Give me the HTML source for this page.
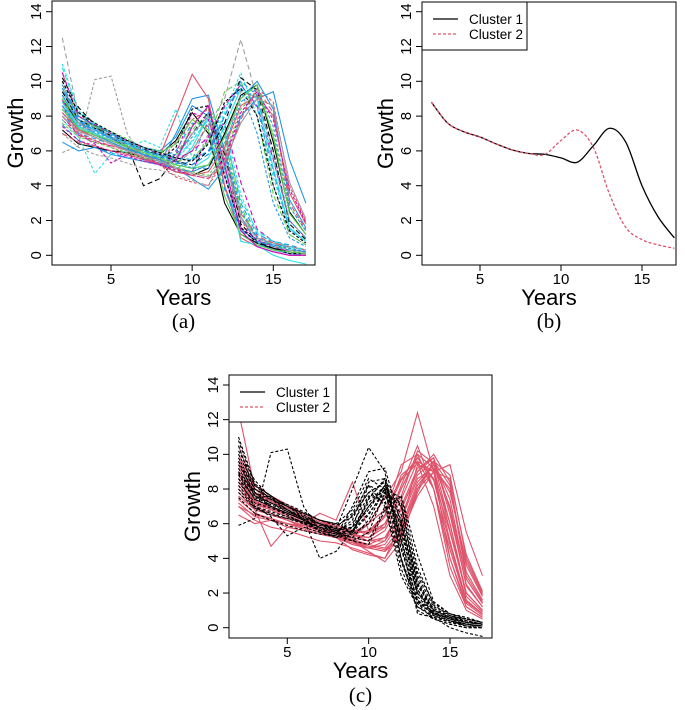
<!DOCTYPE html>
<html><head><meta charset="utf-8"><style>
html,body{margin:0;padding:0;background:#fff;}
svg{display:block;font-family:"Liberation Sans",sans-serif;}
</style></head><body>
<svg id="fig" width="685" height="710" viewBox="0 0 685 710"></svg>
<script>
const years = [2,3,4,5,6,7,8,9,10,11,12,13,14,15,16,17];
const cluster1 = [
[9.0,7.6,7.2,6.8,6.4,6.0,5.8,6.6,8.2,7.0,3.0,1.2,0.7,0.4,0.2,0.1],
[10.5,7.8,7.0,6.6,6.2,5.6,5.4,6.5,7.8,8.4,5.0,2.0,0.8,0.5,0.3,0.2],
[8.4,7.2,6.9,6.5,6.0,5.9,5.6,5.8,7.2,8.2,6.5,2.8,1.0,0.6,0.3,0.2],
[9.6,8.0,7.4,7.0,6.6,6.2,6.0,6.8,8.6,8.0,4.0,1.5,0.8,0.6,0.5,0.3],
[11.0,8.3,7.6,7.0,6.4,6.0,5.6,5.5,6.5,8.0,7.5,3.5,1.3,0.7,0.4,0.2],
[8.0,6.9,6.5,6.3,6.1,5.8,5.5,5.0,4.8,6.8,7.6,4.2,1.5,0.8,0.5,0.3],
[9.2,7.6,7.2,6.7,6.3,5.5,5.3,7.0,9.0,9.2,6.0,2.2,0.7,0.3,0.1,0.0],
[5.9,6.3,10.1,10.3,7.0,5.6,5.4,5.2,5.0,7.0,5.5,2.0,1.0,0.6,0.3,0.2],
[10.2,8.5,7.5,6.8,6.3,4.0,4.4,5.6,7.0,8.2,5.8,1.8,0.8,0.4,0.2,0.1],
[8.8,7.4,7.0,6.6,6.2,6.0,5.7,8.0,10.4,9.0,4.0,1.0,0.5,0.2,0.0,0.0],
[9.8,8.0,7.5,7.1,6.7,6.2,6.0,5.5,7.5,8.5,7.0,2.5,0.9,0.5,0.4,0.2],
[7.5,6.6,6.2,5.9,5.6,5.4,5.3,5.0,5.5,7.8,7.2,3.0,1.2,0.8,0.6,0.3],
[9.4,7.8,7.2,6.8,6.4,6.0,5.5,5.2,6.2,8.0,5.0,0.8,0.6,0.0,-0.3,-0.5],
[8.6,7.0,6.4,5.3,5.8,5.5,5.2,5.8,8.2,7.8,4.5,1.6,0.9,0.5,0.2,0.1],
[8.2,7.0,6.7,6.4,6.1,5.8,5.6,6.0,7.6,7.4,3.8,1.4,0.8,0.5,0.3,0.2],
[9.6,7.6,7.0,6.5,6.0,5.6,5.4,5.6,7.0,8.0,5.5,2.2,1.0,0.7,0.5,0.3],
[10.0,8.2,7.4,6.8,6.2,5.8,5.5,6.2,8.4,8.6,4.6,1.6,0.7,0.4,0.1,0.1],
[7.8,6.9,6.6,6.3,6.0,5.7,5.5,5.4,6.0,7.6,6.0,2.4,1.1,0.7,0.5,0.3],
[9.0,7.8,7.4,7.0,6.6,6.2,5.9,6.4,7.8,7.2,3.4,1.2,0.6,0.3,0.2,0.1],
[8.6,7.5,7.1,6.7,6.3,6.0,5.7,5.8,6.8,8.2,6.2,2.6,1.0,0.6,0.4,0.2],
[10.8,8.2,7.6,7.0,6.5,6.0,5.7,5.6,6.6,7.8,7.0,3.2,1.4,0.8,0.5,0.3],
[8.9,7.4,7.0,6.6,6.2,5.8,5.2,5.4,7.4,8.6,5.2,1.4,0.5,0.2,0.0,0.0]
];
const cluster2 = [
[8.4,7.2,7.0,6.6,6.2,5.8,5.4,5.0,5.5,6.5,8.5,9.5,7.0,3.0,1.0,0.5],
[12.5,8.0,7.3,6.8,6.3,5.8,5.5,5.2,6.0,7.5,9.0,12.4,9.0,4.0,1.2,0.6],
[7.2,6.4,6.2,6.0,5.9,5.6,5.2,4.8,4.6,5.0,7.0,9.2,9.8,6.5,2.5,1.2],
[8.0,7.0,6.6,6.2,5.8,5.5,5.2,4.5,4.2,4.0,5.5,8.0,9.6,8.8,4.0,2.0],
[9.0,7.4,7.0,6.6,6.3,6.0,5.8,5.4,5.6,6.5,9.4,10.0,8.0,3.5,1.2,0.6],
[6.5,6.0,6.2,5.8,5.6,5.4,5.2,5.0,4.8,5.2,6.8,9.0,10.0,8.4,3.2,1.6],
[7.8,6.8,4.7,5.8,6.0,6.6,6.2,8.4,5.6,5.8,8.2,10.5,8.0,4.5,1.5,0.8],
[10.5,8.0,7.5,7.0,6.6,6.2,5.8,5.5,6.0,6.8,8.6,9.8,8.6,5.5,2.0,1.0],
[8.6,7.3,6.9,6.5,6.1,5.8,5.5,5.0,4.4,3.8,5.0,8.0,9.0,9.4,5.5,3.0],
[7.0,6.2,5.8,5.6,5.3,5.0,4.9,4.6,4.3,4.0,6.0,9.4,9.0,6.0,2.0,1.0],
[9.4,7.8,7.3,6.9,6.5,6.1,5.8,5.4,5.2,6.0,7.6,10.2,9.5,6.0,1.8,0.9],
[8.2,7.2,6.8,6.4,6.0,5.6,5.2,4.8,4.6,4.8,6.2,8.6,9.2,8.0,3.6,1.8],
[7.6,6.8,6.5,6.2,5.9,5.6,5.4,5.1,4.8,4.6,5.8,8.4,9.4,7.0,2.8,1.4],
[9.8,8.0,7.5,7.0,6.6,6.2,5.9,5.6,5.5,6.0,8.0,9.8,8.5,4.8,1.5,0.8],
[8.8,7.4,7.0,6.6,6.2,5.9,5.6,5.2,5.0,5.6,7.4,9.6,9.0,5.0,1.6,0.8],
[7.4,6.6,6.3,6.0,5.7,5.4,5.2,4.9,4.6,4.4,5.6,8.2,9.4,7.8,3.8,1.9],
[9.2,7.7,7.2,6.8,6.4,6.0,5.7,5.3,5.2,5.8,8.0,10.0,9.2,5.6,2.0,1.0],
[8.0,7.1,6.8,6.4,6.0,5.7,5.4,5.0,4.7,4.5,5.4,7.6,9.0,8.6,4.2,2.1],
[10.0,8.2,7.6,7.1,6.6,6.2,5.9,5.6,5.4,6.4,8.8,9.6,8.0,4.0,1.4,0.7],
[7.0,6.5,6.3,6.0,5.8,5.5,5.3,5.0,4.6,4.4,5.2,7.8,9.6,8.2,3.0,1.5],
[8.4,7.3,6.9,6.6,6.2,5.9,5.6,5.2,5.0,5.2,6.8,9.0,9.8,6.8,2.4,1.2],
[9.6,7.8,7.3,6.9,6.5,6.1,5.8,5.4,5.0,5.0,6.4,8.8,9.6,7.4,2.8,1.4]
];
const mean1 = [8.8,7.6,7.1,6.8,6.4,6.05,5.85,5.8,5.6,5.35,6.3,7.3,6.5,4.0,2.2,1.0];
const mean2 = [8.8,7.6,7.1,6.8,6.4,6.05,5.85,5.8,6.6,7.2,6.2,3.5,1.6,0.9,0.6,0.4];
const xTicks = [5,10,15];
const yTicks = [0,2,4,6,8,10,12,14];

const NS="http://www.w3.org/2000/svg";
const svg=document.getElementById('fig');
function mk(tag,attrs,parent){const e=document.createElementNS(NS,tag);for(const k in attrs)e.setAttribute(k,attrs[k]);(parent||svg).appendChild(e);return e;}
const palette=["#000000","#DF536B","#61D04F","#2297E6","#28E2E5","#CD0BBC","#2297E6","#9E9E9E"];

function panel(name,box,x5,x15,y0,y14,letter,ly){
  const g=mk('g',{});
  
  
  const xs=v=>x5+(v-5)*(x15-x5)/10, ys=v=>y0+(v)*(y14-y0)/14;
  const clip='clip-'+name;
  const cp=mk('clipPath',{id:clip},g);
  mk('rect',{x:box[0],y:box[1],width:box[2]-box[0],height:box[3]-box[1]},cp);
  const plot=mk('g',{'clip-path':'url(#'+clip+')'},g);
  
  
  const frame=mk('rect',{x:box[0],y:box[1],width:box[2]-box[0],height:box[3]-box[1],fill:'none',stroke:'#000','stroke-width':1},g);
  
  
  xTicks.forEach(t=>{
    mk('line',{x1:xs(t),x2:xs(t),y1:box[3],y2:box[3]+6,stroke:'#000'},g);
    const tx=mk('text',{x:xs(t),y:box[3]+19,'font-size':15,'text-anchor':'middle'},g);tx.textContent=t;
    
    
  });
  yTicks.forEach(t=>{
    mk('line',{x1:box[0],x2:box[0]-6,y1:ys(t),y2:ys(t),stroke:'#000'},g);
    const tx=mk('text',{x:box[0]-11,y:ys(t),'font-size':15,'text-anchor':'middle',transform:`rotate(-90 ${box[0]-11} ${ys(t)})`},g);tx.textContent=t;
    
    
  });
  const cx=(box[0]+box[2])/2, cy=(box[1]+box[3])/2;
  const xl=mk('text',{x:cx,y:box[3]+40,'font-size':22,'text-anchor':'middle'},g);xl.textContent='Years';
  
  
  const yl=mk('text',{x:box[0]-29,y:cy,'font-size':22,'text-anchor':'middle',transform:`rotate(-90 ${box[0]-29} ${cy})`},g);yl.textContent='Growth';
  
  
  const cap=mk('text',{x:cx,y:ly,'font-size':21,'text-anchor':'middle','font-family':'Liberation Serif, serif'},g);cap.textContent='('+letter+')';
  
  
  return {plot,g,xs,ys};
}
function poly(p,vals,xs,ys,attrs,nm){
  const pts=vals.map((v,i)=>xs(years[i]).toFixed(1)+','+ys(v).toFixed(1)).join(' ');
  const e=mk('polyline',Object.assign({points:pts,fill:'none','stroke-width':1.1},attrs),p);
  
  
}
function smooth(p,vals,xs,ys,attrs,nm){
  const P=vals.map((v,i)=>[xs(years[i]),ys(v)]);
  let d='M'+P[0][0]+','+P[0][1];
  for(let i=0;i<P.length-1;i++){
    const p0=P[Math.max(i-1,0)],p1=P[i],p2=P[i+1],p3=P[Math.min(i+2,P.length-1)];
    d+=` C${p1[0]+(p2[0]-p0[0])/6},${p1[1]+(p2[1]-p0[1])/6} ${p2[0]-(p3[0]-p1[0])/6},${p2[1]-(p3[1]-p1[1])/6} ${p2[0]},${p2[1]}`;
  }
  const e=mk('path',Object.assign({d,fill:'none','stroke-width':1.3},attrs),p);
  
  
}
function legend(g,x0,y0,x1,y1){
  const lg=mk('g',{},g);
  
  
  mk('rect',{x:x0,y:y0,width:x1-x0,height:y1-y0,fill:'#fff',stroke:'#000'},lg);
  [['Cluster 1','#000','none'],['Cluster 2','#DF536B','3,2']].forEach((e,i)=>{
    const yy=y0+17+i*15;
    mk('line',{x1:x0+11,x2:x0+36,y1:yy,y2:yy,stroke:e[1],'stroke-dasharray':e[2],'stroke-width':1.2},lg);
    const t=mk('text',{x:x0+47,y:yy+5,'font-size':13.5},lg);t.textContent=e[0];
    
    
  });
}
// Panel a
const A=panel('panel-a',[52,1,315,265],111,273.3,255.3,11.7,'a',328);
cluster1.concat(cluster2).forEach((c,i)=>{
  const col=palette[i%palette.length];
  poly(A.plot,c,A.xs,A.ys,{stroke:col,'stroke-dasharray':(i%3===1)?'3,2':(i%3===2?'5,3':'none')},'curve');
});
// Panel b
const B=panel('panel-b',[422,2,676,265],480,642,255.3,11.7,'b',328);
smooth(B.plot,mean1,B.xs,B.ys,{stroke:'#000'},'mean-cluster-1');
smooth(B.plot,mean2,B.xs,B.ys,{stroke:'#DF536B','stroke-dasharray':'3,2'},'mean-cluster-2');
legend(B.g,422,2,527,50);
// Panel c
const C=panel('panel-c',[229,375,492,638],287.3,450,627.7,385,'c',702);
cluster2.forEach(c=>poly(C.plot,c,C.xs,C.ys,{stroke:'#DF536B'},'cluster-2-curve'));
cluster1.forEach(c=>poly(C.plot,c,C.xs,C.ys,{stroke:'#000','stroke-dasharray':'3,2'},'cluster-1-curve'));
legend(C.g,229,375,336,422);
</script>
</body></html>
